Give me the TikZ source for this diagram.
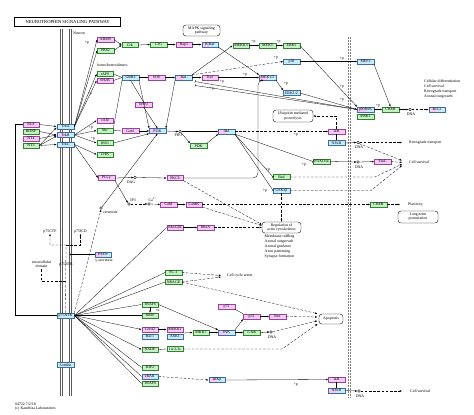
\documentclass[tikz,border=0pt]{standalone}
\usepackage{fontspec}
\setmainfont{Liberation Serif}
\usetikzlibrary{arrows.meta}
\definecolor{kpink}{RGB}{246,200,246}
\definecolor{kpinkd}{RGB}{150,70,150}
\definecolor{kgreen}{RGB}{196,242,196}
\definecolor{kgreend}{RGB}{50,130,50}
\definecolor{kblue}{RGB}{200,236,250}
\definecolor{kblued}{RGB}{60,110,160}
\tikzset{
  gene/.style={draw, line width=0.35pt, inner sep=0.2pt, minimum width=16.5pt, minimum height=5pt},
  pk/.style={gene, draw=kpinkd, fill=kpink},
  gn/.style={gene, draw=kgreend, fill=kgreen},
  bl/.style={gene, draw=kblued, fill=kblue},
  pb/.style={gene, draw=kblued, fill=kpink, path picture={\fill [kblue] (path picture bounding box.south) rectangle (path picture bounding box.north east);}},
  cpd/.style={circle, draw, fill=white, line width=0.3pt, inner sep=0pt, minimum size=2.8pt},
  pmap/.style={draw, line width=0.35pt, rounded corners=3pt, align=center, inner sep=0pt},
  lbl/.style={inner sep=0pt},
  act/.style={line width=0.3pt, -{Latex[length=2.2pt,width=1.8pt]}},
  ind/.style={act, dash pattern=on 2.6pt off 1.6pt},
  inh/.style={line width=0.3pt, -{Bar[width=3pt]}},
  lnk/.style={line width=0.3pt}
}
\begin{document}
\begin{tikzpicture}[x=1pt, y=-1pt, font=\fontsize{3.9}{4.2}\selectfont]
  \useasboundingbox [fill=white] (0, 0) rectangle (474, 415);

  % cell and nuclear membranes
  \draw [black!65, line width=0.45pt] (60.3, 29) -- (60.3, 396);
  \draw [black!65, line width=0.45pt] (62.3, 29) -- (62.3, 396);
  \draw [black!65, line width=0.45pt] (69.0, 29) -- (69.0, 396);
  \draw [black!65, line width=0.45pt] (71.0, 29) -- (71.0, 396);
  \draw [black!50, line width=0.6pt, dash pattern=on 2pt off 1pt] (348.4, 37) -- (348.4, 398);
  \draw [black!50, line width=0.6pt, dash pattern=on 2pt off 1pt] (350.4, 37) -- (350.4, 398);

  \node [draw, line width=0.5pt, minimum width=106pt, minimum height=8.7pt, inner sep=0pt, font=\fontsize{4.6}{5}\selectfont] (title) at (67.7, 21.6) {NEUROTROPHIN SIGNALING PATHWAY};
  \node [lbl, anchor=west] (neuron) at (73, 33) {Neuron};
  \node [lbl, anchor=west] (dimer) at (97, 65.5) {homo/heterodimers};

  % neurotrophins and receptors
  \node [pk] (ngf) at (31, 124.5) {NGF};
  \node [gn] (bdnf) at (31, 131.5) {BDNF};
  \node [pk] (nt4) at (31, 138.5) {NT4};
  \node [gn] (nt3) at (31, 145.5) {NT3};
  \node [bl, minimum width=17.5pt] (trka) at (65.5, 126.5) {TrkA};
  \node [pb, minimum width=17.5pt] (trkb) at (65.5, 135) {TrkB};
  \node [bl, minimum width=17.5pt] (trkc) at (65.5, 144.5) {TrkC};
  \node [bl, minimum width=17.5pt] (p75) at (65.5, 315.5) {p75NTR};
  \node [bl, minimum width=17.5pt] (sort) at (65.5, 365) {Sortilin};

  % Trk adaptors
  \node [pk] (arms) at (105.5, 39.5) {ARMS};
  \node [gn] (frs2) at (105.5, 50.5) {FRS2};
  \node [gn] (crk) at (130, 45) {Crk};
  \node [gn] (c3g) at (158.5, 44.5) {C3G};
  \node [pk] (rap1) at (184, 44.5) {Rap1};
  \node [pb] (braf) at (210, 44.5) {B-Raf};
  \node [pmap, minimum width=37pt, minimum height=11pt] (mapk) at (201.5, 30.5) {MAPK signaling\\pathway};
  \node [gn] (mekk3) at (241, 45.5) {MEKK3};
  \node [gn] (mek5) at (267.5, 45.5) {MEK5};
  \node [gn] (erk5) at (291.5, 45.5) {ERK5};
  \node [bl] (p38) at (291.5, 61.5) {p38};
  \node [bl] (mef2) at (365.5, 61.5) {MEF2};
  \node [gn] (raps) at (105, 74) {rAPS};
  \node [pk] (sh2b) at (105, 80.5) {SH2B};
  \node [bl] (grb2) at (130.5, 77.5) {GRB2};
  \node [pk] (sos) at (156.5, 77.5) {SOS};
  \node [pb] (ras) at (183.5, 77.5) {Ras};
  \node [pk] (raf) at (210, 77.5) {Raf};
  \node [pb] (mek12) at (267.5, 77.5) {MEK1/2};
  \node [bl] (erk12) at (291.5, 93) {ERK1/2};
  \node [pk] (shp2) at (143.5, 104.5) {SHP2};
  \node [pmap, minimum width=40pt, minimum height=12pt] (ubq) at (293, 116) {Ubiquitin mediated\\proteolysis};
  \node [pb] (rsk) at (365.5, 109.5) {p90RSK};
  \node [gn] (msk1) at (365.5, 116.5) {MSK1};
  \node [gn] (creb) at (390.5, 109.5) {CREB};
  \node [cpd] (dna1) at (410, 109.5) {};
  \node [lbl] (dna1l) at (411, 114.5) {DNA};
  \node [pb] (bcl2) at (437, 109.5) {Bcl-2};
  \node [lbl, anchor=north west, align=left, font=\fontsize{3.9}{5}\selectfont] (out1) at (424, 79.5) {Cellular differentiation\\Cell survival\\Retrograde transport\\Axonal outgrowth};

  \node [pk] (cabl) at (105, 120.5) {cAbl};
  \node [gn] (shc) at (105, 130.5) {Shc};
  \node [gn] (irs1) at (105, 143) {IRS1};
  \node [gn] (chk) at (105, 154.5) {CHK};
  \node [pk] (gab1) at (130.5, 131) {Gab1};
  \node [pb] (pi3k) at (157.5, 131) {PI3K};
  \node [cpd] (pip3) at (180, 131.5) {};
  \node [lbl] (pip3l) at (178.5, 135.5) {PIP3};
  \node [pb] (akt) at (226.5, 131.5) {Akt};
  \node [gn] (pdk) at (198.5, 146) {PDK};
  \node [pk] (ikb) at (336.5, 131.5) {IκB};
  \node [bl] (nfkb) at (336.5, 143) {NFκB};
  \node [cpd] (dna2) at (358, 142.5) {};
  \node [lbl] (dna2l) at (359, 147.5) {DNA};
  \node [gn] (foxo) at (321.5, 161.5) {FOXO3a};
  \node [cpd] (dna3) at (358, 162) {};
  \node [lbl] (dna3l) at (359, 167) {DNA};
  \node [pk] (fasl) at (382.5, 161.5) {FasL};
  \node [lbl, anchor=west] (retro) at (409, 143) {Retrograde transport};
  \node [lbl, anchor=west] (surv1) at (409, 162.5) {Cell survival};

  \node [pk] (plcg) at (106.5, 178) {PLCγ};
  \node [cpd] (dag) at (135, 177.5) {};
  \node [lbl] (dagl) at (131, 182) {DAG};
  \node [pk] (pkc) at (175, 178) {PKCδ};
  \node [gn] (bad) at (281.5, 177) {Bad};
  \node [bl] (gsk) at (281.5, 190.5) {GSK3β};
  \node [cpd] (ip3) at (129, 204) {};
  \node [lbl] (ip3l) at (133, 200) {IP3};
  \node [cpd] (ca) at (149, 204) {};
  \node [lbl] (cal) at (152.5, 199.5) {Ca\textsuperscript{2+}};
  \node [pk] (cam) at (168.5, 204.5) {CaM};
  \node [pk] (camk) at (194, 204.5) {CaMK};
  \node [gn] (creb2) at (378.5, 204.5) {CREB};
  \node [lbl, anchor=west] (plast) at (408, 204.5) {Plasticity};
  \node [pmap, minimum width=40pt, minimum height=12pt] (ltp) at (418, 217) {Long-term\\potentiation};
  \node [cpd] (cer) at (101, 208) {};
  \node [lbl, anchor=west] (cerl) at (103, 212) {ceramide};
  \node [pk] (rhogdi) at (175, 227.5) {RhoGDI};
  \node [pk] (rhoa) at (205.5, 227.5) {RhoA};
  \node [pmap, minimum width=39pt, minimum height=11pt] (reg) at (281.5, 227.5) {Regulation of\\actin cytoskeleton};
  \node [lbl, anchor=north west, align=left, font=\fontsize{3.9}{5}\selectfont] (out2) at (264.5, 235) {Membrane ruffling\\Axonal outgrowth\\Axonal guidance\\Axon patterning\\Synapse formation};

  % p75NTR cleavage
  \node [lbl] (ctf) at (50, 232) {p75CTF};
  \node [lbl] (icd) at (80.5, 232) {p75ICD};
  \node [pb] (psen) at (103, 254.5) {PSEN};
  \node [lbl] (gsec) at (104, 261) {γ-secretase};
  \node [lbl, align=center] (ecd) at (41.5, 264.5) {extracellular\\domain};
  \node [lbl] (p75l) at (66, 264.5) {p75NTR};
  \coordinate (cut) at (70.5, 254.5);
  \coordinate (split) at (66, 245);
  \coordinate (ecdp) at (66, 281);

  % p75NTR partners
  \node [gn] (sc1) at (173.5, 272.5) {SC-1};
  \node [gn] (nrage) at (173.5, 282) {NRAGE};
  \node [lbl, anchor=west] (arrest) at (227, 276) {Cell cycle arrest};
  \coordinate (arr) at (221, 275.5);
  \node [gn] (traf6a) at (150, 304.5) {TRAF6};
  \node [gn] (nrif) at (150, 315.5) {NRIF};
  \node [pk] (p73) at (226.5, 306.5) {p73};
  \node [pk] (p53) at (251.5, 316.5) {p53};
  \node [pk] (bax) at (277.5, 316.5) {Bax};
  \node [pmap, minimum width=24pt, minimum height=10pt] (apop) at (331, 319) {Apoptosis};
  \node [pk] (cdc42) at (150, 329.5) {Cdc42};
  \node [bl] (rac1) at (150, 336.5) {Rac1};
  \node [pk] (mekk1) at (175, 329.5) {MEKK1};
  \node [bl] (ask1) at (175, 336.5) {ASK1};
  \node [gn] (mkk7) at (201, 332.5) {MKK7};
  \node [pb] (jnk) at (226.5, 332.5) {JNK};
  \node [gn] (cjun) at (251.5, 332.5) {c-Jun};
  \node [cpd] (dna4) at (271, 332) {};
  \node [lbl] (dna4l) at (272, 337) {DNA};
  \node [gn] (nade) at (150, 349.5) {NADE};
  \node [gn] (ywhae) at (175, 349) {14-3-3ε};
  \node [gn] (rip2) at (150, 367.5) {RIP2};
  \node [pb] (irak) at (150, 376.5) {IRAK};
  \node [gn] (traf6b) at (150, 383.5) {TRAF6};
  \node [pb] (ikkb) at (217, 380) {IKKβ};
  \node [pk] (ikb2) at (336.5, 379.5) {IκB};
  \node [pb] (nfkb2) at (336.5, 390.5) {NFκB};
  \node [cpd] (dna5) at (359, 391) {};
  \node [lbl] (dna5l) at (360, 396) {DNA};
  \node [lbl, anchor=west] (surv2) at (410, 391) {Cell survival};
  \node [lbl, anchor=north west, align=left] (copy) at (15, 402.5) {04722 7/2/18\\(c) Kanehisa Laboratories};

  \coordinate (surv) at (402, 162.5);
  \coordinate (rasbar1) at (195, 81.5);
  \coordinate (rasbar2) at (195, 85.5);

  % ligand binding
  \draw [lnk] (ngf.west) -- (15, 124.5) -- (15, 315.5) -- (p75.west);
  \draw [act] (ngf.east) -- (trka.west);
  \draw [act] (bdnf.east) -- (trkb.west);
  \draw [act] (nt4.east) -- (trkb.west);
  \draw [act] (nt3.east) -- (trkc.west);
  \draw [act] (nt3.east) -- ([yshift=-1pt]trkb.west);
  \draw [act] (nt3.east) -- ([yshift=-1pt]trka.west);

  % Trk signalling
  \draw [act] (trka.east) -- (arms.west);
  \draw [act] (trka.east) -- (frs2.west);
  \draw [act] (trka.east) -- (raps.west);
  \draw [act] (trka.east) -- (sh2b.west);
  \draw [act] (trkb.east) -- (cabl.west);
  \draw [act] (trkb.east) -- (shc.west);
  \draw [act] (trkb.east) -- (irs1.west);
  \draw [act] (trkc.east) -- (chk.west);
  \draw [act] (trkc.east) -- (plcg.west);
  \node [lbl] (p01) at (87, 43) {+p};
  \node [lbl] (p02) at (90, 94) {+p};
  \node [lbl] (p03) at (91, 128) {+p};
  \node [lbl] (p04) at (93, 139) {+p};

  \draw [act] (arms.east) -- (crk.west);
  \draw [act] (frs2.east) -- (crk.west);
  \draw [act] (crk.east) -- (c3g.west);
  \draw [act] (c3g.east) -- (rap1.west);
  \draw [act] (rap1.east) -- (braf.west);
  \draw [act] (braf.south east) -- (mek12.north west);
  \draw [lnk] (raps.east) -- (grb2.west);
  \draw [lnk] (sh2b.east) -- (grb2.west);
  \draw [lnk] (grb2.east) -- (sos.west);
  \draw [act] (sos.east) -- (ras.west);
  \draw [act] (ras.east) -- (raf.west);
  \draw [act] (raf.east) -- (mek12.west);
  \node [lbl] (p05) at (245, 75) {+p};
  \draw [act] (mek12.south east) -- (erk12.north west);
  \node [lbl] (p06) at (286, 84) {+p};
  \draw [act] (ras.north east) -- (mekk3.west);
  \draw [act] (mekk3.east) -- (mek5.west);
  \node [lbl] (p07) at (253.5, 42) {+p};
  \draw [act] (mek5.east) -- (erk5.west);
  \node [lbl] (p08) at (278.5, 42) {+p};
  \draw [ind] (ras.north east) -- (p38.west);
  \node [lbl] (p09) at (276, 58) {+p};
  \draw [act] (p38.east) -- (mef2.west);
  \node [lbl] (p10) at (342, 58.5) {+p};
  \draw [act] (erk5.east) -- (rsk.north west);
  \node [lbl] (p11) at (342, 87) {+p};
  \draw [act] (erk12.east) -- (rsk.west);
  \node [lbl] (p12) at (342, 100) {+p};
  \draw [inh] (rsk.west) -- (rasbar1);
  \draw [inh] (rsk.west) -- (rasbar2);
  \node [lbl] (p13) at (222, 82) {+p};
  \node [lbl] (p14) at (212, 89) {+p};
  \draw [act] (mef2.south east) -- (creb.north);
  \draw [act] (rsk.east) -- (creb.west);
  \node [lbl] (p15) at (378, 106) {+p};
  \draw [act] (creb.east) -- (dna1.west);
  \draw [ind] (dna1.east) -- (bcl2.west);

  \draw [lnk] (grb2.south) -- (shp2.north);
  \draw [lnk] (grb2.south west) -- (shc.north east);
  \draw [act] (grb2.south east) -- (pi3k.north west);
  \draw [act] (shp2.south) -- (pi3k.north);
  \draw [act] (ras.south west) -- (pi3k.north east);
  \draw [lnk] (shc.east) -- (gab1.west);
  \draw [act] (gab1.east) -- (pi3k.west);
  \draw [act] (irs1.east) -- (pi3k.south west);
  \draw [act] (cer.north east) -- (pi3k.south);
  \draw [act] (pi3k.east) -- (pip3.west);
  \draw [act] (pip3.east) -- (akt.west);
  \draw [act] (pip3.south east) -- (pdk.north west);
  \draw [act] (pdk.north east) -- (akt.south west);

  % Akt targets
  \draw [ind] (akt.east) -- (ikb.west);
  \node [lbl] (p16) at (296, 135) {+p};
  \draw [lnk] (ikb.south) -- (nfkb.north);
  \draw [ind] (ikb.north) -- (336.5, 116) -- (ubq.east);
  \draw [act] (nfkb.east) -- (dna2.west);
  \draw [ind] (dna2.east) -- (402, 142.5);
  \draw [ind] (dna2.south east) -- ([yshift=2pt]surv);
  \draw [inh] (akt.south east) -- (foxo.west);
  \node [lbl] (p17) at (304, 164.5) {+p};
  \draw [inh] (akt.south east) -- (bad.west);
  \node [lbl] (p18) at (268, 170) {+p};
  \draw [inh] (akt.south east) -- (gsk.west);
  \node [lbl] (p19) at (265, 191) {+p};
  \draw [act] (foxo.east) -- (dna3.west);
  \draw [act] (dna3.east) -- (fasl.west);
  \draw [ind] (fasl.east) -- (surv);
  \draw [ind] (bad.east) -- (375, 177) -- ([yshift=-1.5pt]surv);
  \draw [ind] (gsk.east) -- (371, 190.5) -- ([yshift=-3pt]surv);
  \draw [ind] (gsk.south) -- (reg.north);

  % PLC pathway
  \draw [act] (plcg.east) -- (dag.west);
  \draw [act] (dag.east) -- (pkc.west);
  \draw [act, rounded corners=5pt] (pkc.east) -- (258, 178) -- (258, 80) -- ([xshift=1pt]mek12.south west);
  \draw [act] (plcg.south east) -- (ip3.north west);
  \draw [ind] (ip3.east) -- (ca.west);
  \draw [ind] (ca.east) -- (cam.west);
  \draw [act] (cam.east) -- (camk.west);
  \draw [ind] (camk.east) -- (creb2.west);
  \draw [ind] (creb2.east) -- (400, 204.5);
  \draw [ind] (pkc.south east) -- ([yshift=3pt]reg.west);
  \draw [ind] (camk.south east) -- ([yshift=2pt]reg.west);
  \draw [act] (rhogdi.east) -- (rhoa.west);
  \draw [ind] (rhoa.east) -- (reg.west);

  % p75NTR signalling
  \draw [ind] (p75.north east) -- (cer.south);
  \draw [lnk] (psen.west) -- (cut);
  \fill (cut) circle (0.8);
  \draw [ind] (p75.north) -- (split) -| (ctf.south);
  \draw [ind] (split) -| (icd.south);
  \draw [lnk, dash pattern=on 2.6pt off 1.6pt] (ecdp) -| (ecd.south);
  \draw [lnk] (p75.east) -- (rhogdi.west);
  \draw [lnk] (p75.east) -- (sc1.west);
  \draw [lnk] (p75.east) -- (nrage.west);
  \draw [lnk] (p75.east) -- (traf6a.west);
  \draw [lnk] (p75.east) -- (nrif.west);
  \draw [act] (p75.east) -- (cdc42.west);
  \draw [act] (p75.east) -- (nade.west);
  \draw [lnk] (p75.east) -- (rip2.west);
  \draw [lnk] (p75.east) -- (irak.west);
  \draw [lnk] (p75.east) -- (traf6b.west);
  \draw [ind] (sc1.east) -- (arr);
  \draw [ind] (nrage.east) -- ([yshift=-1.5pt]arr);
  \draw [act] (traf6a.south) -- (nrif.north);
  \node [lbl] (u1) at (157.5, 310) {+u};
  \draw [act] (traf6a.east) -- (jnk.north west);
  \draw [act] (cdc42.east) -- (mekk1.west);
  \draw [act] ([yshift=-3.5pt]mekk1.east) -- (mkk7.west);
  \draw [act] (mkk7.east) -- (jnk.west);
  \draw [act] (jnk.north east) -- (p53.south west);
  \draw [lnk] (p73.south east) -- (p53.north west);
  \draw [act] (p53.east) -- (bax.west);
  \draw [act] (jnk.east) -- (cjun.west);
  \draw [act] (cjun.east) -- (dna4.west);
  \draw [ind, shorten >=1.5pt] (nrage.east) -- ([yshift=5pt]apop.west);
  \draw [ind, shorten >=1.5pt] (bax.east) -- ([yshift=2pt]apop.west);
  \draw [ind, shorten >=1.5pt] (dna4.east) -- ([yshift=-1.5pt]apop.west);
  \draw [lnk] (nade.east) -- (ywhae.west);
  \draw [ind, shorten >=1.5pt] (ywhae.east) -- (282, 349) -- ([yshift=-4pt]apop.west);
  \draw [ind] (irak.east) -- (ikkb.west);
  \draw [act] (ikkb.east) -- (ikb2.west);
  \node [lbl] (p20) at (296, 385) {+p};
  \draw [lnk] (ikb2.south) -- (nfkb2.north);
  \draw [act] (nfkb2.east) -- (dna5.west);
  \draw [ind] (dna5.east) -- (402, 391);
\end{tikzpicture}
\end{document}
